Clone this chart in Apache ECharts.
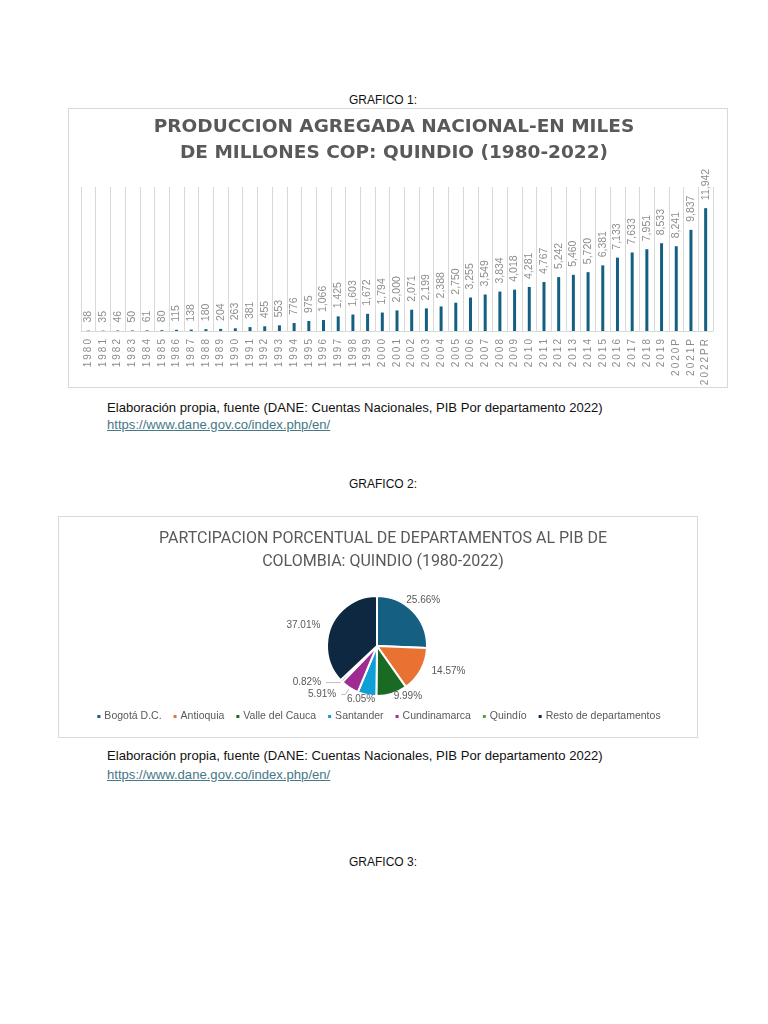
<!DOCTYPE html>
<html>
<head>
<meta charset="utf-8">
<script src="https://cdn.jsdelivr.net/npm/echarts@6/dist/echarts.min.js"></script>
<style>
  html, body { margin:0; padding:0; background:#fff; }
  body { width:768px; height:1024px; position:relative; overflow:hidden; font-family:"Liberation Sans", Arial, sans-serif; }
  .t { position:absolute; white-space:nowrap; color:#111; }
  .c { position:absolute; box-sizing:border-box; border:1px solid #d9d9d9; background:#fff; }
  a { color:#467886; text-decoration:underline; }
</style>
</head>
<body>
<div class="t" style="left:0;width:766px;text-align:center;top:92px;font-size:12px;line-height:16px;">GRAFICO 1:</div>
<div id="c1" class="c" style="left:68px;top:108px;width:660px;height:280px;"></div>
<div class="t" style="left:107px;top:400px;font-size:13.1px;line-height:16px;">Elaboración propia, fuente (DANE: Cuentas Nacionales, PIB Por departamento 2022)</div>
<div class="t" style="left:107px;top:417px;font-size:13.1px;line-height:16px;"><a>https://www.dane.gov.co/index.php/en/</a></div>
<div class="t" style="left:0;width:766px;text-align:center;top:476px;font-size:12px;line-height:16px;">GRAFICO 2:</div>
<div id="c2" class="c" style="left:58px;top:516px;width:640px;height:222px;"></div>
<div class="t" style="left:107px;top:748px;font-size:13.1px;line-height:16px;">Elaboración propia, fuente (DANE: Cuentas Nacionales, PIB Por departamento 2022)</div>
<div class="t" style="left:107px;top:767px;font-size:13.1px;line-height:16px;"><a>https://www.dane.gov.co/index.php/en/</a></div>
<div class="t" style="left:0;width:766px;text-align:center;top:854px;font-size:12px;line-height:16px;">GRAFICO 3:</div>
<script>
const years = ['1980','1981','1982','1983','1984','1985','1986','1987','1988','1989','1990','1991','1992','1993','1994','1995','1996','1997','1998','1999','2000','2001','2002','2003','2004','2005','2006','2007','2008','2009','2010','2011','2012','2013','2014','2015','2016','2017','2018','2019','2020P','2021P','2022PR'];
const production = [38,35,46,50,61,80,115,138,180,204,263,381,455,553,776,975,1066,1425,1603,1672,1794,2000,2071,2199,2388,2750,3255,3549,3834,4018,4281,4767,5242,5460,5720,6381,7133,7633,7951,8533,8241,9837,11942];

const departments = ['Bogotá D.C.','Antioquia','Valle del Cauca','Santander','Cundinamarca','Quindío','Resto de departamentos'];
const shares = [25.66,14.57,9.99,6.05,5.91,0.82,37.01];
const pieColors = ['#156082','#e97132','#196b24','#0f9ed5','#a02b93','#4ea72e','#0e2841'];

const c1 = echarts.init(document.getElementById('c1'), null, {renderer:'canvas'});
c1.setOption({
  animation:false,
  title:{
    text:'PRODUCCION AGREGADA NACIONAL-EN MILES\nDE MILLONES COP: QUINDIO (1980-2022)',
    left:320, top:0, textAlign:'center',
    textStyle:{fontFamily:'DejaVu Sans', fontWeight:'bold', fontSize:18.5, lineHeight:26, color:'#595959'}
  },
  grid:{left:12, right:14, top:78, bottom:56, containLabel:false, outerBoundsMode:'none'},
  xAxis:{
    type:'category', data:years,
    axisLine:{show:true, lineStyle:{color:'#d9d9d9'}},
    axisTick:{show:false},
    splitLine:{show:true, interval:0, lineStyle:{color:'#d9d9d9', width:1}},
    axisLabel:{interval:0, rotate:90, margin:8, fontSize:10, color:'#8c8c8c',
      fontFamily:'Liberation Sans',
      formatter:v=>v.split('').join('\u2009')}
  },
  yAxis:{type:'value', min:0, max:14000, show:false, splitLine:{show:false}},
  series:[{
    type:'bar', data:production, barWidth:3,
    itemStyle:{color:'#156082'},
    label:{show:true, position:'top', rotate:90, align:'left', verticalAlign:'middle', distance:8,
      fontSize:10.5, color:'#8c8c8c', fontFamily:'Liberation Sans',
      formatter:p=>p.value.toLocaleString('en-US')}
  }]
});

const c2 = echarts.init(document.getElementById('c2'), null, {renderer:'canvas'});
const lineCfg = [
  {show:false, length:3, length2:3},
  {show:false, length:3, length2:3},
  {show:false, length:3, length2:0},
  {show:false, length:4, length2:0},
  {show:true, length:8, length2:4},
  {show:true, length:2, length2:14},
  {show:false, length:3, length2:3}
];
c2.setOption({
  animation:false,
  title:{
    text:'PARTCIPACION PORCENTUAL DE DEPARTAMENTOS AL PIB DE\nCOLOMBIA: QUINDIO (1980-2022)',
    left:319, top:5, textAlign:'center',
    textStyle:{fontFamily:'Roboto', fontWeight:'normal', fontSize:16, lineHeight:23, color:'#595959'}
  },
  legend:{
    bottom:10, left:'center', icon:'rect', itemWidth:5, itemHeight:5, itemGap:10,
    textStyle:{fontSize:10.5, color:'#595959', fontFamily:'Liberation Sans', padding:[0,0,0,-2]},
    data:departments
  },
  series:[{
    type:'pie', center:[318,129], radius:50, startAngle:90, clockwise:true,
    avoidLabelOverlap:false,
    itemStyle:{borderColor:'#fff', borderWidth:2},
    label:{show:true, position:'outside', fontSize:10, color:'#595959', fontFamily:'Liberation Sans',
      formatter:p=>p.value.toFixed(2)+'%'},
    labelLine:{lineStyle:{color:'#bfbfbf'}},
    labelLayout:function(p){
      if (p.dataIndex===0) return {align:'center', dy:-9};
      if (p.dataIndex===2) return {align:'left', dx:-4};
      if (p.dataIndex===3) return {align:'center'};
      return {};
    },
    data:departments.map((n,i)=>({name:n, value:shares[i], itemStyle:{color:pieColors[i]},
      labelLine:lineCfg[i]}))
  }]
});
</script>
</body>
</html>
